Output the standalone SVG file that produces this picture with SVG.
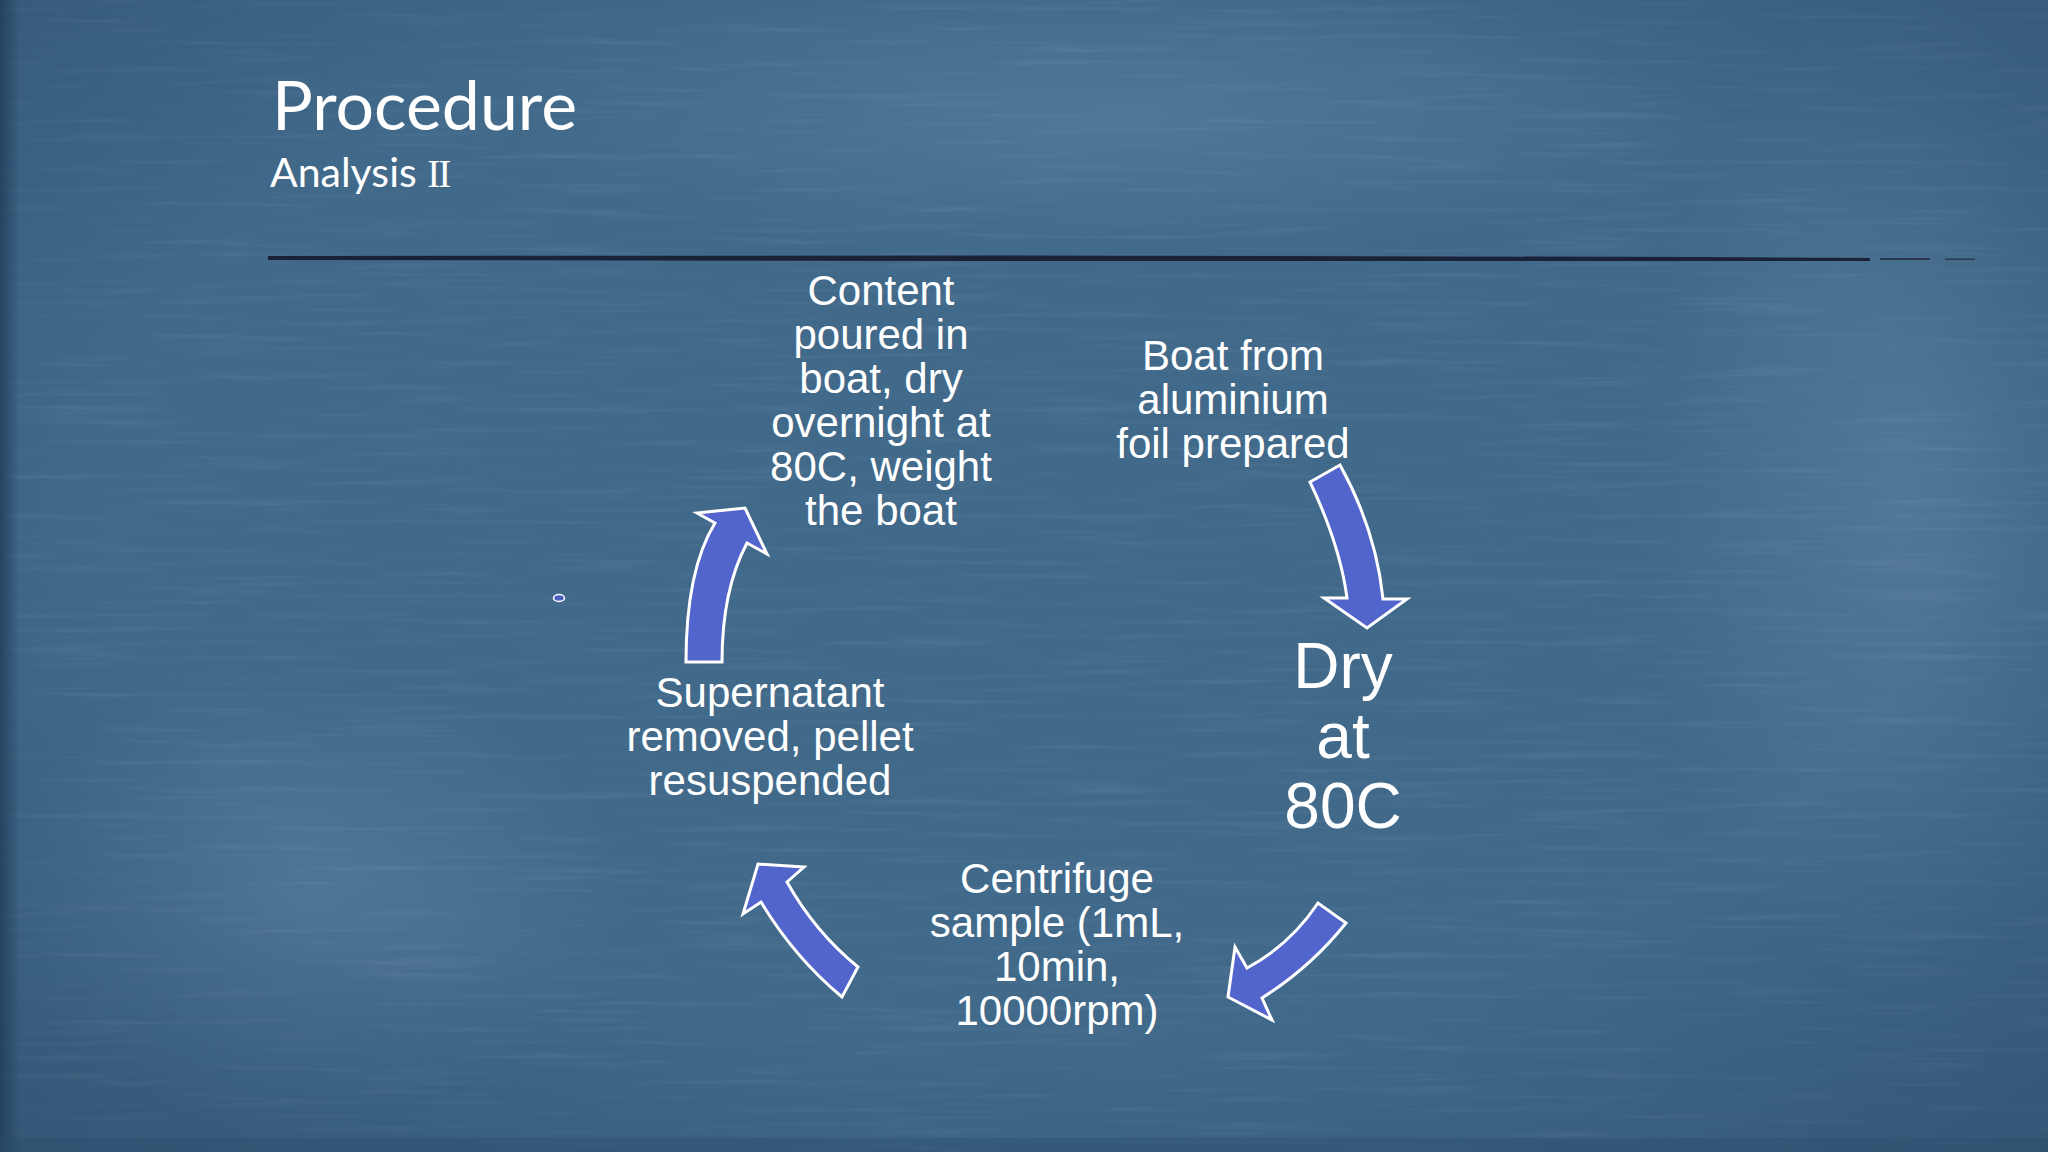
<svg xmlns="http://www.w3.org/2000/svg" width="2048" height="1152" viewBox="0 0 2048 1152">
<defs>
<style>
.lbl{font-family:"Liberation Sans",Arial,sans-serif;font-size:42px;fill:#ffffff;text-anchor:middle}
.big{font-family:"Liberation Sans",Arial,sans-serif;font-size:64px;fill:#ffffff;text-anchor:middle}
.title{font-family:Lato,"Open Sans",sans-serif;fill:#ffffff}
.arrow{fill:#5265cc;stroke:#ffffff;stroke-width:3;stroke-linejoin:miter}
</style>
<filter id="chalk" x="0" y="0" width="100%" height="100%">
<feTurbulence type="fractalNoise" baseFrequency="0.006 0.15" numOctaves="3" seed="7" result="n"/>
<feColorMatrix in="n" type="matrix" values="0 0 0 0 1  0 0 0 0 1  0 0 0 0 1  0 0 0 1.6 -0.85" result="w"/>
<feComposite in="w" in2="SourceGraphic" operator="in"/>
</filter>
<radialGradient id="vig" cx="50%" cy="45%" r="75%">
<stop offset="0.6" stop-color="#1d3a55" stop-opacity="0"/>
<stop offset="1" stop-color="#1d3a55" stop-opacity="0.4"/>
</radialGradient>
<radialGradient id="light" cx="50%" cy="50%" r="50%">
<stop offset="0" stop-color="#8fb0c8" stop-opacity="0.2"/>
<stop offset="1" stop-color="#8fb0c8" stop-opacity="0"/>
</radialGradient>
<linearGradient id="leftEdge" x1="0" x2="1" y1="0" y2="0">
<stop offset="0" stop-color="#1f3c58" stop-opacity="0.8"/>
<stop offset="1" stop-color="#1f3c58" stop-opacity="0"/>
</linearGradient>
</defs>

<g id="background">
<rect x="0" y="0" width="2048" height="1152" fill="#41698a"/>
<ellipse cx="300" cy="900" rx="320" ry="220" fill="url(#light)"/>
<ellipse cx="1900" cy="500" rx="260" ry="500" fill="url(#light)"/>
<ellipse cx="1100" cy="120" rx="600" ry="140" fill="url(#light)"/>
<rect x="0" y="0" width="2048" height="1152" fill="#ffffff" filter="url(#chalk)" opacity="0.1"/>
<rect x="0" y="0" width="2048" height="1152" fill="url(#vig)"/>
<rect x="0" y="0" width="20" height="1152" fill="url(#leftEdge)"/>
<rect x="0" y="1138" width="2048" height="14" fill="#2b4d6c" opacity="0.4"/>
</g>

<g id="title">
<text class="title" x="272" y="130" font-size="68">Procedure</text>
<text class="title" x="270" y="187" font-size="41">Analysis <tspan font-family="Liberation Serif, serif" font-size="39" letter-spacing="-2">II</tspan></text>
</g>

<g id="rule">
<path d="M268,256 L1000,255.5 L1700,257 L1870,258 L1870,261 L1700,261 L1000,261 L268,260 Z" fill="#1b2238"/>
<path d="M1880,258 L1930,258 L1930,260 L1880,260 Z M1945,258.5 L1975,258.5 L1975,260 L1945,260 Z" fill="#1b2238" opacity="0.7"/>
</g>

<g id="node-content">
<text class="lbl" x="881" y="305">Content</text>
<text class="lbl" x="881" y="349">poured in</text>
<text class="lbl" x="881" y="393">boat, dry</text>
<text class="lbl" x="881" y="437">overnight at</text>
<text class="lbl" x="881" y="481">80C, weight</text>
<text class="lbl" x="881" y="525">the boat</text>
</g>

<g id="node-boat">
<text class="lbl" x="1233" y="370">Boat from</text>
<text class="lbl" x="1233" y="414">aluminium</text>
<text class="lbl" x="1233" y="458">foil prepared</text>
</g>

<g id="node-dry">
<text class="big" x="1343" y="688">Dry</text>
<text class="big" x="1343" y="758">at</text>
<text class="big" x="1343" y="828">80C</text>
</g>

<g id="node-centrifuge">
<text class="lbl" x="1057" y="893">Centrifuge</text>
<text class="lbl" x="1057" y="937">sample (1mL,</text>
<text class="lbl" x="1057" y="981">10min,</text>
<text class="lbl" x="1057" y="1025">10000rpm)</text>
</g>

<g id="node-supernatant">
<text class="lbl" x="770" y="707">Supernatant</text>
<text class="lbl" x="770" y="751">removed, pellet</text>
<text class="lbl" x="770" y="795">resuspended</text>
</g>

<g id="connectors">
<path class="arrow" d="M1310,482 Q1340,545 1347,598 L1324,598 L1367,628 L1407,599 L1383,599 Q1376,530 1340,465 Z"/>
<path class="arrow" d="M1318,903 Q1290,945 1247,968 L1235,947 L1228,997 L1272,1020 L1262,998 Q1311,967 1346,923 Z"/>
<path class="arrow" d="M858,967 Q815,932 787,882 L804,867 L758,864 L743,914 L761,902 Q794,957 842,997 Z"/>
<path class="arrow" d="M686,662 Q686,570 715,523 L697,513 L745,508 L767,554 L747,543 Q722,590 722,662 Z"/>
</g>

<g id="dot">
<ellipse cx="559" cy="598" rx="5.5" ry="3.5" fill="#4a5fc0" stroke="#ffffff" stroke-width="1.5"/>
</g>
</svg>
